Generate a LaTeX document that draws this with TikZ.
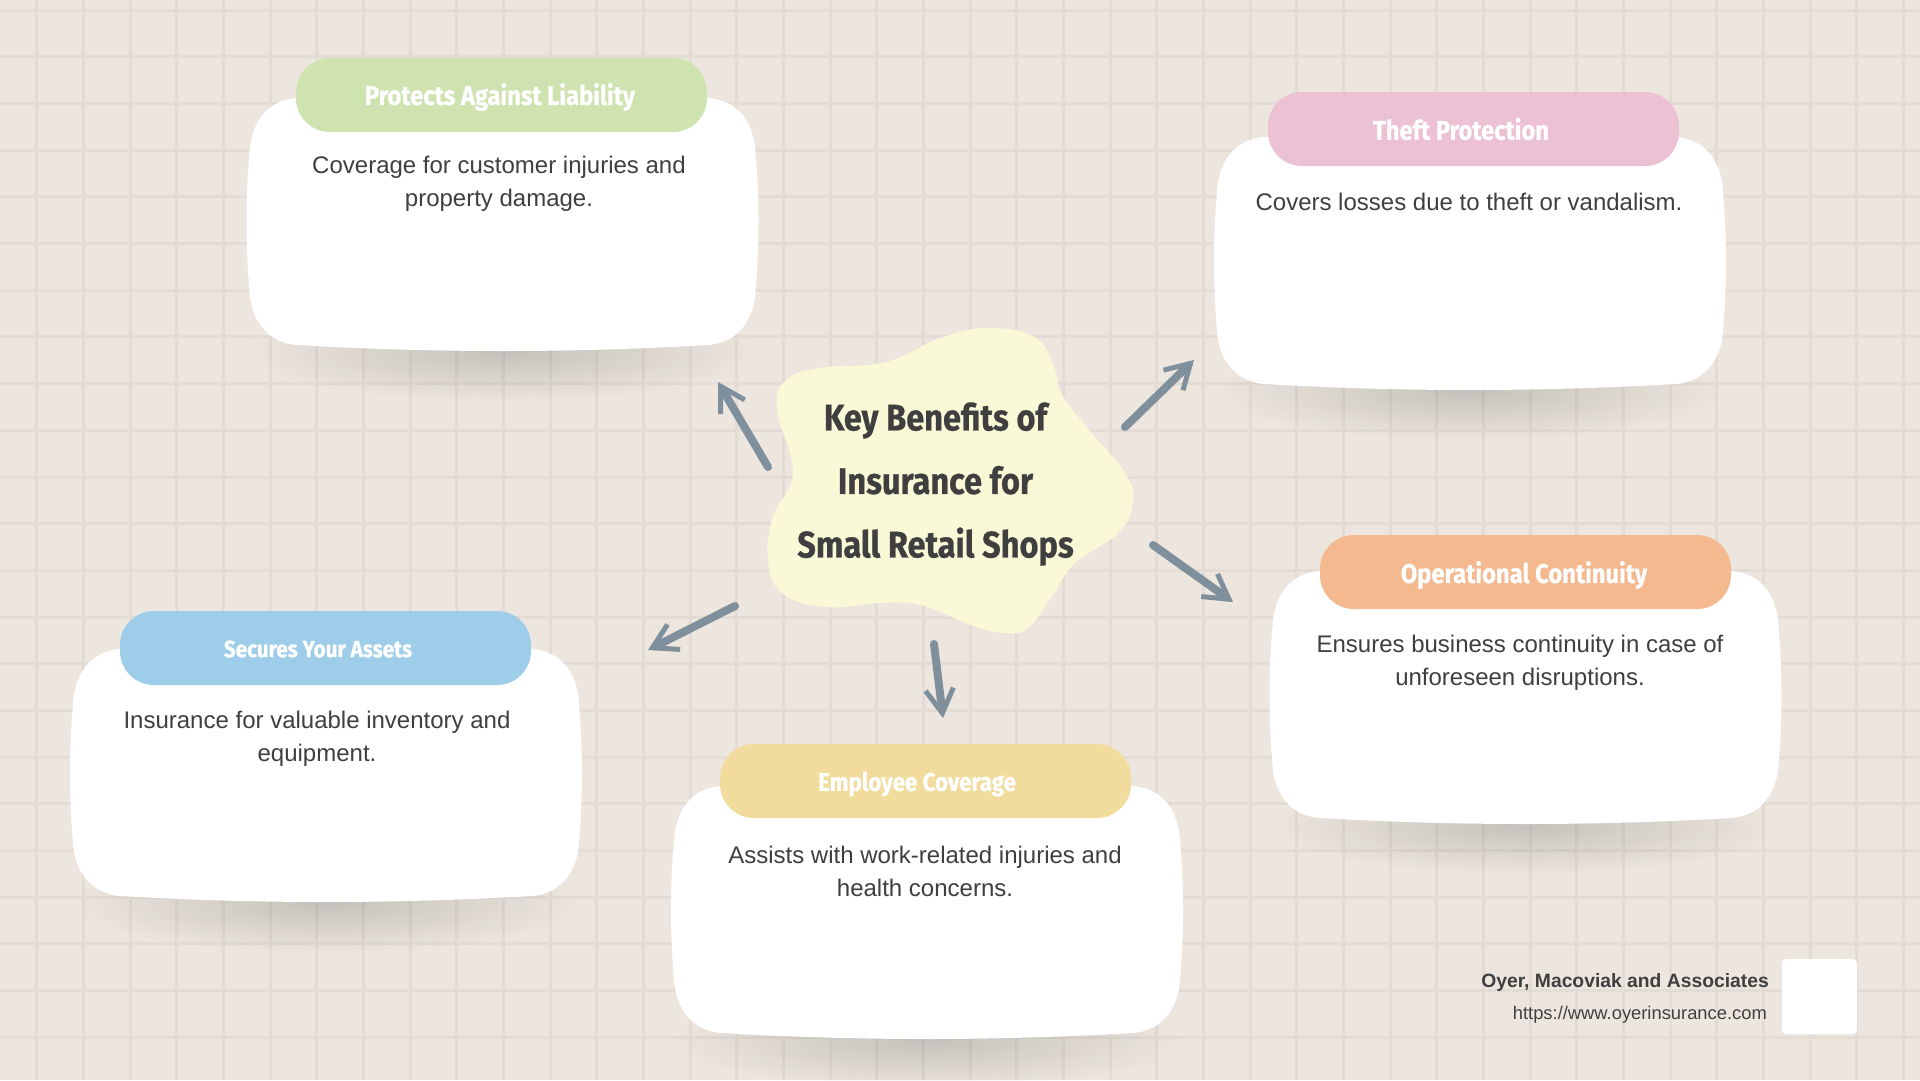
\documentclass[tikz,border=0pt]{standalone}
\usepackage{fontspec}
\setmainfont{Liberation Sans}
\newfontfamily\brushfont{Fira Sans}[BoldFeatures={FakeStretch=.88,FakeBold=.6}]
\usetikzlibrary{arrows.meta,fadings}

\definecolor{paper}{HTML}{ECE6DF}
\definecolor{gridline}{HTML}{E2DCD5}
\definecolor{inktext}{HTML}{3F3F3F}
\definecolor{arrowgrey}{HTML}{7F8F9C}
\definecolor{blobyellow}{HTML}{F9F9D8}
\definecolor{pillgreen}{HTML}{CFE3B1}
\definecolor{pillpink}{HTML}{EDC1D4}
\definecolor{pillorange}{HTML}{F4B98F}
\definecolor{pillyellow}{HTML}{F1DC9D}
\definecolor{pillblue}{HTML}{9ECDEA}

\tikzfading[name=softshadow, inner color=transparent!0, outer color=transparent!100]

\begin{document}
\begin{tikzpicture}[x=1pt,y=-1pt]
    \tikzset{
        pill/.style={rectangle, rounded corners=34pt, minimum width=411pt, minimum height=74pt, inner sep=0pt, fill=#1},
        pilltitle/.style={text=white, inner sep=0pt, font=\brushfont\bfseries\fontsize{#1}{30}\selectfont},
        bodytext/.style={text=inktext, align=center, inner sep=0pt, font=\fontsize{24}{33}\selectfont},
        pointer/.style={draw=arrowgrey, line width=8pt, line cap=round, -{Straight Barb[length=24pt,width=28pt,line width=5pt]}},
        cardshape/.pic={
            \path[fill=black, fill opacity=.16, path fading=softshadow] (-255,76) rectangle (255,176);
            \fill[white] (-205,119) .. controls (-70,127) and (70,127) .. (205,119)
                .. controls (238,117) and (252,90) .. (253,65)
                .. controls (257,20) and (257,-30) .. (253,-72)
                .. controls (252,-100) and (238,-126) .. (205,-128)
                .. controls (70,-136) and (-70,-136) .. (-205,-128)
                .. controls (-238,-126) and (-252,-100) .. (-253,-72)
                .. controls (-257,-30) and (-257,20) .. (-253,65)
                .. controls (-252,90) and (-238,117) .. (-205,119) -- cycle;
        },
    }
    \useasboundingbox (0,0) rectangle (1920,1080);

    % Paper
    \fill[paper] (0,0) rectangle (1920,1080);
    \foreach \gx in {0,...,40} {
        \draw[gridline, line width=3pt] ({36.7+46.67*\gx},0) -- ({36.7+46.67*\gx},1080);
    }
    \foreach \gy in {0,...,22} {
        \draw[gridline, line width=3pt] (0,{10.3+46.67*\gy}) -- (1920,{10.3+46.67*\gy});
    }

    % Cards
    \pic at (502.5,226) {cardshape};
    \pic at (1470,265) {cardshape};
    \pic at (1525.5,699) {cardshape};
    \pic at (927,914) {cardshape};
    \pic at (326,777) {cardshape};

    % Pills
    \node[pill=pillgreen] (liabilitypill) at (501.5,95) {};
    \node[pill=pillpink] (theftpill) at (1473.5,129) {};
    \node[pill=pillorange] (continuitypill) at (1525.5,572) {};
    \node[pill=pillyellow] (employeepill) at (925.5,781) {};
    \node[pill=pillblue] (assetspill) at (325.5,648) {};

    % Titles
    \node[pilltitle=27] (liabilitytitle) at (500,97) {Protects Against Liability};
    \node[pilltitle=27] (thefttitle) at (1461,129) {Theft Protection};
    \node[pilltitle=27] (continuitytitle) at (1524,575) {Operational Continuity};
    \node[pilltitle=25.4] (employeetitle) at (917,784) {Employee Coverage};
    \node[pilltitle=23.5] (assetstitle) at (318,649) {Secures Your Assets};

    % Texts
    \node[bodytext] (liabilitytext) at (499,183.5) {Coverage for customer injuries and\\property damage.};
    \node[bodytext] (thefttext) at (1469,201.5) {Covers losses due to theft or vandalism.};
    \node[bodytext] (continuitytext) at (1520,662.5) {Ensures business continuity in case of\\unforeseen disruptions.};
    \node[bodytext] (employeetext) at (925,871) {Assists with work-related injuries and\\health concerns.};
    \node[bodytext] (assetstext) at (317,738.5) {Insurance for valuable inventory and\\equipment.};

    % Centre
    \fill[blobyellow] plot[smooth cycle, tension=.7] coordinates {
        (991,328) (1036,338) (1055,370) (1061,393) (1089,430) (1125,473) (1133,503)
        (1118,533) (1075,563) (1054,593) (1029,627) (1004,633) (971,625) (921,605)
        (879,603) (825,607) (782,593) (768,560) (773,517) (793,473) (777,410)
        (786,380) (821,368) (886,362) (943,337)};
    \node[text=inktext, align=center, inner sep=0pt, font=\brushfont\bfseries\fontsize{37}{63.5}\selectfont] (hub) at (935.5,484)
        {Key Benefits of\\Insurance for\\Small Retail Shops};

    % Arrows
    \coordinate (liabilitytail) at (768,467);
    \coordinate (liabilitytip) at (718,382);
    \coordinate (thefttail) at (1125,427);
    \coordinate (thefttip) at (1194,360);
    \coordinate (continuitytail) at (1153,545);
    \coordinate (continuitytip) at (1233,602);
    \coordinate (employeetail) at (934,644);
    \coordinate (employeetip) at (943,718);
    \coordinate (assetstail) at (735,606);
    \coordinate (assetstip) at (648,650);
    \draw[pointer] (liabilitytail) -- (liabilitytip);
    \draw[pointer] (thefttail) -- (thefttip);
    \draw[pointer] (continuitytail) -- (continuitytip);
    \draw[pointer] (employeetail) -- (employeetip);
    \draw[pointer] (assetstail) -- (assetstip);

    % Footer
    \node[fill=white, rounded corners=4pt, minimum size=75pt, inner sep=0pt] (logobox) at (1819.5,996.5) {};
    \node[anchor=east, text=inktext, inner sep=0pt, font=\bfseries\fontsize{19.3}{24}\selectfont] (company) at (1769,982.5) {Oyer, Macoviak and Associates};
    \node[anchor=east, text=inktext, inner sep=0pt, font=\fontsize{18.35}{22}\selectfont] (website) at (1767,1015) {https://www.oyerinsurance.com};

\end{tikzpicture}
\end{document}
